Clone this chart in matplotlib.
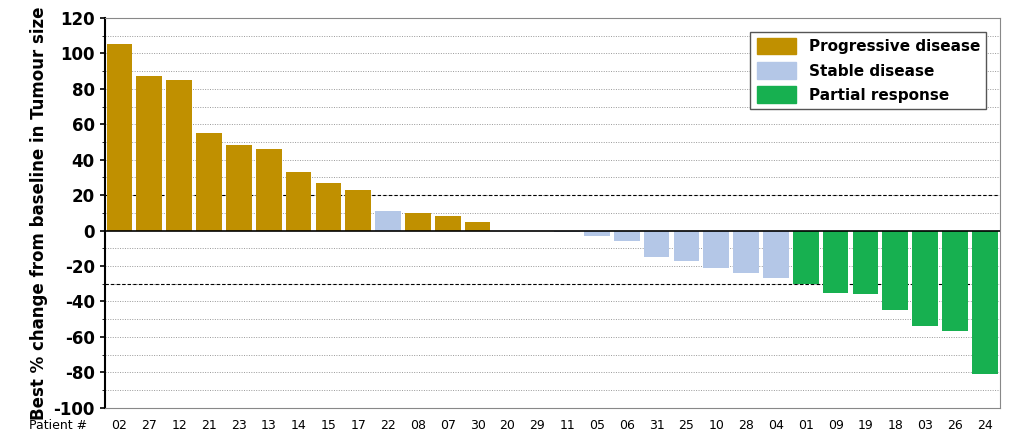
import numpy as np
import matplotlib.pyplot as plt
from matplotlib.patches import Patch

plt.rcParams["axes.unicode_minus"] = False

patients = ["02", "27", "12", "21", "23", "13", "14", "15", "17", "22", "08", "07", "30", "20", "29",
            "11", "05", "06", "31", "25", "10", "28", "04", "01", "09", "19", "18", "03", "26", "24"]
change = [105, 87, 85, 55, 48, 46, 33, 27, 23, 11, 10, 8, 5, 0, 0,
          -1, -3, -6, -15, -17, -21, -24, -27, -30, -35, -36, -45, -54, -57, -81]
response = ["PD"] * 9 + ["SD"] + ["PD"] * 3 + ["SD"] * 10 + ["PR"] * 7

colors = {"PD": "#c09000", "SD": "#b4c7e7", "PR": "#17b050"}

fig = plt.figure(figsize=(10.15, 4.48), dpi=100)
ax = fig.add_axes([0.103, 0.09, 0.882, 0.87])

x = np.arange(len(patients))
ax.bar(x, change, width=0.86, color=[colors[r] for r in response], zorder=3)

ax.set_ylim(-100, 120)
ax.set_xlim(-0.5, len(patients) - 0.5)
ax.set_yticks(np.arange(-100, 121, 20))
ax.set_yticks(np.arange(-90, 120, 20), minor=True)
for v in np.arange(-90, 120, 10):
    if v != 0:
        ax.axhline(v, color="#999999", lw=0.7, ls=(0, (1, 1.5)), zorder=1)
ax.axhline(0, color="black", lw=1.2, zorder=4)
ax.axhline(20, color="black", lw=0.8, ls=(0, (3, 2)), zorder=2)
ax.axhline(-30, color="black", lw=0.8, ls=(0, (3, 2)), zorder=2)

ax.set_xticks(x)
ax.set_xticklabels(patients, fontsize=9)
ax.tick_params(axis="x", length=0, pad=8)
ax.tick_params(axis="y", labelsize=12, width=1.2)
for lbl in ax.get_yticklabels():
    lbl.set_fontweight("bold")
ax.text(-0.02, -0.03, "Patient #", transform=ax.transAxes, ha="right", va="top", fontsize=9)
ax.set_ylabel("Best % change from baseline in Tumour size", fontsize=12, fontweight="bold")
ax.spines["left"].set_linewidth(1.5)
for s in ["top", "right", "bottom"]:
    ax.spines[s].set_color("#888888")

handles = [Patch(color=colors["PD"], label="Progressive disease"),
           Patch(color=colors["SD"], label="Stable disease"),
           Patch(color=colors["PR"], label="Partial response")]
leg = ax.legend(handles=handles, loc="upper right", framealpha=1,
                edgecolor="#555555", fancybox=False, handlelength=2.6, handleheight=1.3,
                borderaxespad=0.9, prop={"weight": "bold", "size": 11})
leg.set_zorder(5)

fig.savefig("out.png", dpi=100)
